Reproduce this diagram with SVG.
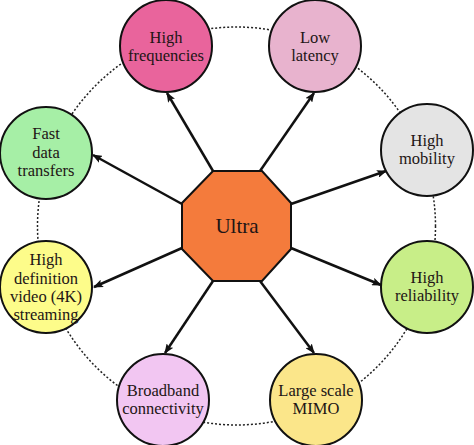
<svg xmlns="http://www.w3.org/2000/svg" width="474" height="445" viewBox="0 0 474 445">
<style>
.ring{fill:none;stroke:#222;stroke-width:1.5;stroke-dasharray:2 2}
.node{stroke:#111;stroke-width:2}
.edge{stroke:#111;stroke-width:2.5;fill:none;marker-end:url(#ah)}
text{font-family:"Liberation Serif","Times New Roman",serif;font-size:16.5px;fill:#221515;text-anchor:middle}
.big{font-size:21px}
</style>
<defs>
<marker id="ah" markerUnits="userSpaceOnUse" markerWidth="10" markerHeight="8" refX="9" refY="4" orient="auto">
<path d="M0,0 L10,4 L0,8 L2,4 Z" fill="#111"/>
</marker>
</defs>
<rect width="474" height="445" fill="#fff"/>
<circle class="ring" cx="236.5" cy="226" r="199"/>
<g id="connectors">
<line class="edge" x1="213" y1="171" x2="167" y2="93"/>
<line class="edge" x1="260" y1="171" x2="314" y2="93"/>
<line class="edge" x1="182" y1="204" x2="93" y2="155"/>
<line class="edge" x1="291" y1="204" x2="386" y2="171"/>
<line class="edge" x1="182" y1="248" x2="94" y2="287"/>
<line class="edge" x1="291" y1="248" x2="381" y2="285"/>
<line class="edge" x1="213" y1="281" x2="165" y2="353"/>
<line class="edge" x1="260" y1="281" x2="314" y2="353"/>
</g>
<g id="ultra">
<polygon class="node" fill="#F47B3C" points="213,171 262,171 291,203 291,249 262,281 213,281 182,249 182,203"/>
<text class="big" x="237" y="233">Ultra</text>
</g>
<g id="high-frequencies">
<circle class="node" cx="166" cy="46" r="46" fill="#E9649C"/>
<text x="166" y="43">High</text>
<text x="166" y="61">frequencies</text>
</g>
<g id="low-latency">
<circle class="node" cx="315" cy="46" r="46" fill="#E8B3CE"/>
<text x="315" y="43">Low</text>
<text x="315" y="61">latency</text>
</g>
<g id="fast-data">
<circle class="node" cx="46" cy="153" r="46" fill="#A6EFA6"/>
<text x="46" y="139">Fast</text>
<text x="46" y="157.5">data</text>
<text x="46" y="176">transfers</text>
</g>
<g id="high-mobility">
<circle class="node" cx="427" cy="150" r="46" fill="#E4E4E4"/>
<text x="427" y="146">High</text>
<text x="427" y="164">mobility</text>
</g>
<g id="hd-video">
<circle class="node" cx="46" cy="287" r="46" fill="#FDFC8A"/>
<text x="46" y="265">High</text>
<text x="46" y="283.5">definition</text>
<text x="46" y="302">video (4K)</text>
<text x="46" y="320">streaming</text>
</g>
<g id="high-reliability">
<circle class="node" cx="427" cy="287" r="46" fill="#C8EE88"/>
<text x="427" y="283">High</text>
<text x="427" y="301">reliability</text>
</g>
<g id="broadband">
<circle class="node" cx="163" cy="400" r="46" fill="#F2C6F2"/>
<text x="163" y="396">Broadband</text>
<text x="163" y="414">connectivity</text>
</g>
<g id="mimo">
<circle class="node" cx="316" cy="400" r="46" fill="#FBE68A"/>
<text x="316" y="396">Large scale</text>
<text x="316" y="414">MIMO</text>
</g>
</svg>
